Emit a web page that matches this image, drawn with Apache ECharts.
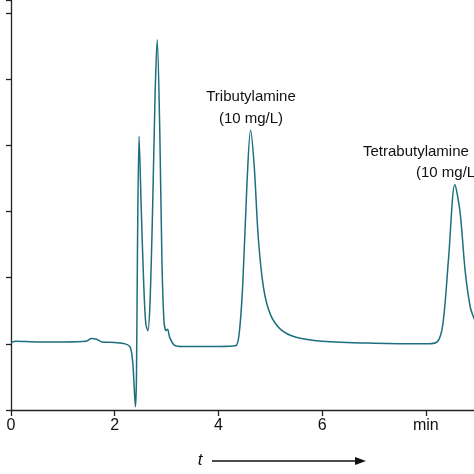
<!DOCTYPE html><html><head><meta charset="utf-8"><script src="https://cdn.jsdelivr.net/npm/echarts@6/dist/echarts.min.js"></script>
<style>html,body{margin:0;background:#fff}#c{width:474px;height:474px}</style></head><body><div id="c"></div><script>
const times=[0,0.1,0.5,1.0,1.45,1.55,1.65,1.75,2.0,2.2,2.3,2.35,2.4,2.42,2.44,2.47,2.51,2.56,2.6,2.64,2.68,2.73,2.78,2.82,2.87,2.91,2.95,2.99,3.02,3.06,3.15,3.3,4.0,4.33,4.4,4.47,4.55,4.62,4.69,4.77,4.87,5.0,5.2,5.5,6.0,7.0,8.0,8.22,8.33,8.44,8.56,8.66,8.76,8.86,8.95];
const signal=[0.02,0.04,0.03,0.03,0.04,0.08,0.07,0.03,0.02,0.0,-0.05,-0.3,-0.95,-0.5,1.5,3.14,2.1,0.9,0.3,0.2,0.6,2.0,3.8,4.6,3.2,1.3,0.35,0.2,0.22,0.1,-0.02,-0.04,-0.04,-0.03,0.15,0.9,2.4,3.23,2.7,1.6,0.85,0.45,0.22,0.1,0.04,0.01,0.0,0.03,0.3,1.3,2.41,2.0,1.1,0.55,0.35];
const xTickLabels={0:'0',2:'2',4:'4',6:'6',8:'min'};
const ch=echarts.init(document.getElementById('c'));
const ax={color:'#222',width:1.3};
const F='15px Liberation Sans';
ch.setOption({animation:false,
grid:{left:11,right:0,top:0,bottom:64},
xAxis:{type:'value',min:0,max:8.93,interval:2,splitLine:{show:false},axisLine:{onZero:false,lineStyle:ax},axisTick:{lineStyle:ax,length:6},
 axisLabel:{formatter:v=>xTickLabels[v]??'',color:'#111',fontSize:16,fontFamily:'Liberation Sans',margin:8,showMaxLabel:false}},
yAxis:{type:'value',min:-1,max:5.2,interval:1,splitLine:{show:false},axisLine:{show:true,onZero:false,lineStyle:ax},axisTick:{show:true,inside:false,lineStyle:ax,length:5},axisLabel:{show:false}},
series:[{type:'line',data:times.map((t,i)=>[t,signal[i]]),showSymbol:false,smooth:0.3,lineStyle:{color:'#1d6e7e',width:1.5}}],
graphic:[
{type:'text',x:251,y:97,style:{text:'Tributylamine',fill:'#111',font:F,align:'center',verticalAlign:'middle'}},
{type:'text',x:251,y:119,style:{text:'(10 mg/L)',fill:'#111',font:F,align:'center',verticalAlign:'middle'}},
{type:'text',x:363,y:152,style:{text:'Tetrabutylamine',fill:'#111',font:F,align:'left',verticalAlign:'middle'}},
{type:'text',x:416,y:173,style:{text:'(10 mg/L)',fill:'#111',font:F,align:'left',verticalAlign:'middle'}},
{type:'text',x:200,y:460,style:{text:'t',fill:'#111',font:'italic 17px Liberation Sans',align:'center',verticalAlign:'middle'}},
{type:'line',shape:{x1:212,y1:461,x2:362,y2:461},style:{stroke:'#111',lineWidth:1.3}},
{type:'polygon',shape:{points:[[366,461],[355,457],[355,465]]},style:{fill:'#111'}}
]});
</script></body></html>
